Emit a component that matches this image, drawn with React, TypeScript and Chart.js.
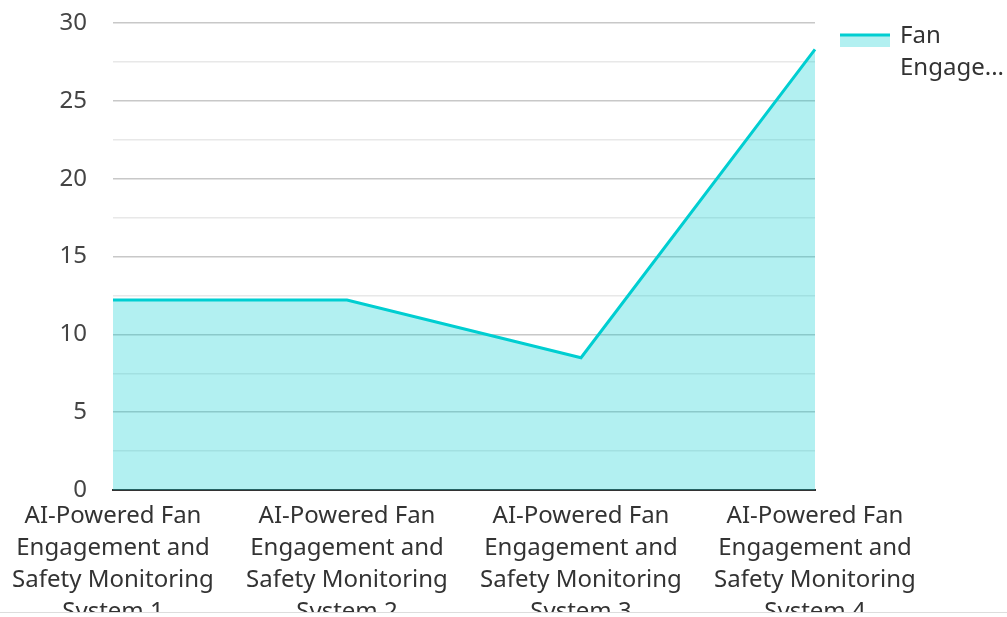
import React, { useEffect, useRef } from "react";
import { Chart, registerables } from "chart.js";

Chart.register(...registerables);

const categories: string[][] = [
  ["AI-Powered Fan", "Engagement and", "Safety Monitoring", "System 1"],
  ["AI-Powered Fan", "Engagement and", "Safety Monitoring", "System 2"],
  ["AI-Powered Fan", "Engagement and", "Safety Monitoring", "System 3"],
  ["AI-Powered Fan", "Engagement and", "Safety Monitoring", "System 4"],
];
const seriesName = "Fan Engagement Score";
const seriesValues: number[] = [12.2, 12.2, 8.5, 28.3];
const yMin = 0;
const yMax = 30;
const yMajorStep = 5;
const yMinorStep = 2.5;

const LINE_COLOR = "#00CED1";
const FILL_COLOR = "rgba(0, 206, 209, 0.3)";
const FONT = "'Noto Sans', sans-serif";

const legendPlugin = {
  id: "customLegend",
  afterDraw(chart: any) {
    const ctx = chart.ctx as CanvasRenderingContext2D;
    const ds = chart.data.datasets[0];
    const x0 = chart.chartArea.right + 25;
    const boxW = 50;
    const lineY = 35;
    ctx.save();
    ctx.fillStyle = ds.backgroundColor;
    ctx.fillRect(x0, lineY, boxW, 12);
    ctx.strokeStyle = ds.borderColor;
    ctx.lineWidth = 3;
    ctx.beginPath();
    ctx.moveTo(x0, lineY);
    ctx.lineTo(x0 + boxW, lineY);
    ctx.stroke();
    ctx.font = `24px ${FONT}`;
    ctx.fillStyle = "#333";
    ctx.textBaseline = "middle";
    ctx.textAlign = "left";
    const tx = x0 + boxW + 10;
    const maxW = chart.width - tx - 2;
    const words = String(ds.label).split(" ");
    const first = words[0];
    let rest = words.slice(1).join(" ");
    if (ctx.measureText(rest).width > maxW) {
      let s = "";
      for (const ch of rest) {
        if (ctx.measureText(s + ch + "...").width > maxW) break;
        s += ch;
      }
      rest = s + "...";
    }
    ctx.fillText(first, tx, 36);
    ctx.fillText(rest, tx, 68);
    ctx.restore();
  },
};

export default function App() {
  const ref = useRef<HTMLCanvasElement | null>(null);
  useEffect(() => {
    if (!ref.current) return;
    const chart = new Chart(ref.current, {
      type: "line",
      data: {
        labels: categories,
        datasets: [
          {
            label: seriesName,
            data: seriesValues,
            borderColor: LINE_COLOR,
            backgroundColor: FILL_COLOR,
            borderWidth: 3,
            fill: "origin",
            tension: 0,
            pointRadius: 0,
            pointHoverRadius: 0,
          },
        ],
      },
      options: {
        responsive: false,
        animation: false,
        devicePixelRatio: 1,
        layout: { padding: { top: 23, right: 192, left: 0, bottom: 0 } },
        plugins: {
          legend: { display: false },
          tooltip: { enabled: false },
        },
        scales: {
          x: {
            offset: false,
            grid: { display: false, drawTicks: false },
            border: { display: true, color: "#333", width: 2 },
            ticks: {
              color: "#333",
              font: { family: FONT, size: 24, lineHeight: 32 / 24 },
              padding: 10,
              maxRotation: 0,
              minRotation: 0,
              autoSkip: false,
            },
            afterFit(scale: any) {
              scale.height = 122;
            },
          },
          y: {
            min: yMin,
            max: yMax,
            grid: {
              drawTicks: false,
              color: (c: any) =>
                c.tick && c.tick.value % yMajorStep === 0 ? "#c8c8c8" : "#e8e8e8",
              lineWidth: 1.5,
            },
            border: { display: false },
            ticks: {
              stepSize: yMinorStep,
              color: "#444",
              font: { family: FONT, size: 24 },
              padding: 26,
              callback: (v: any) => (Number(v) % yMajorStep === 0 ? String(v) : ""),
            },
            afterFit(scale: any) {
              scale.width = 113;
              scale.paddingTop = 0;
              scale.paddingBottom = 0;
            },
          },
        },
      },
      plugins: [legendPlugin],
    });
    return () => chart.destroy();
  }, []);

  return (
    <div
      style={{
        position: "absolute",
        left: 0,
        top: 0,
        width: 1007,
        height: 612,
        overflow: "hidden",
        borderBottom: "1px solid #ddd",
        background: "#fff",
      }}
    >
      <canvas ref={ref} width={1007} height={612} style={{ display: "block" }} />
    </div>
  );
}
